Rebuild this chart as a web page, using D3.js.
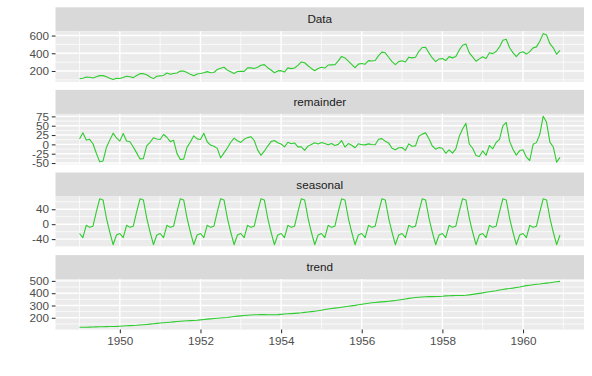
<!DOCTYPE html>
<html>
<head>
<meta charset="utf-8">
<script src="https://cdn.jsdelivr.net/npm/d3@7"></script>
<style>
  body { margin: 0; background: #fff; }
  svg { display: block; font-family: "Liberation Sans", Arial, sans-serif; }
</style>
</head>
<body>
<div id="wrapper"></div>
<script>
// Serie mensal, inicio em jan/1949
const startYear = 1949;

const passengers = [
  112, 118, 132, 129, 121, 135, 148, 148, 136, 119, 104, 118,
  115, 126, 141, 135, 125, 149, 170, 170, 158, 133, 114, 140,
  145, 150, 178, 163, 172, 178, 199, 199, 184, 162, 146, 166,
  171, 180, 193, 181, 183, 218, 230, 242, 209, 191, 172, 194,
  196, 196, 236, 235, 229, 243, 264, 272, 237, 211, 180, 201,
  204, 188, 235, 227, 234, 264, 302, 293, 259, 229, 203, 229,
  242, 233, 267, 269, 270, 315, 364, 347, 312, 274, 237, 278,
  284, 277, 317, 313, 318, 374, 413, 405, 355, 306, 271, 306,
  315, 301, 356, 348, 355, 422, 465, 467, 404, 347, 305, 336,
  340, 318, 362, 348, 363, 435, 491, 505, 404, 359, 310, 337,
  360, 342, 406, 396, 420, 472, 548, 559, 463, 407, 362, 405,
  417, 391, 419, 461, 472, 535, 622, 606, 508, 461, 390, 432
];

const remainder = [
  14.5, 31.0, 11.5, 13.5, 1.7, -23.8, -46.8, -44.3, -8.5, 11.4, 30.0, 17.2,
  8.7, 28.9, 9.1, 7.1, -6.9, -22.8, -38.9, -38.2, -4.2, 5.6, 17.5, 14.3,
  12.9, 26.5, 19.2, 7.4, 10.8, -24.1, -40.3, -39.6, -8.0, 6.2, 23.0, 14.8,
  12.9, 29.8, 7.0, -1.8, -5.1, -10.8, -36.0, -22.8, -9.7, 5.7, 16.6, 9.6,
  5.2, 13.5, 18.1, 20.6, 10.4, -14.7, -29.3, -18.3, -4.5, 7.4, 10.5, 4.5,
  1.0, -6.5, 5.7, 1.6, 3.9, -6.8, -6.5, -16.0, -4.7, -0.3, 4.5, 0.9,
  5.2, 2.3, -1.1, 2.3, -3.0, 0.0, 10.2, -7.3, 2.2, -2.2, -9.0, 1.5,
  -1.0, -1.4, 1.4, -0.3, -1.0, 13.9, 15.5, 8.2, 4.0, -10.5, -14.5, -9.1,
  -8.3, -16.0, 1.4, -4.9, -4.0, 21.8, 27.5, 30.8, 15.3, -4.4, -12.8, -8.6,
  -10.3, -23.9, -14.5, -23.5, -12.2, 21.0, 41.2, 56.3, 1.0, -10.3, -29.7, -32.6,
  -17.5, -29.2, -2.9, -11.8, 5.0, 13.5, 49.3, 58.9, 8.8, -13.0, -28.8, -16.6,
  -14.3, -34.4, -43.2, 0.2, 4.7, 27.0, 75.5, 59.0, 6.0, -7.0, -47.5, -35.0
];

const seasonal = [
  -25, -36, -3, -8.5, -5.5, 33, 68, 65, 16.5, -21, -55, -29,
  -25, -36, -3, -8.5, -5.5, 33, 68, 65, 16.5, -21, -55, -29,
  -25, -36, -3, -8.5, -5.5, 33, 68, 65, 16.5, -21, -55, -29,
  -25, -36, -3, -8.5, -5.5, 33, 68, 65, 16.5, -21, -55, -29,
  -25, -36, -3, -8.5, -5.5, 33, 68, 65, 16.5, -21, -55, -29,
  -25, -36, -3, -8.5, -5.5, 33, 68, 65, 16.5, -21, -55, -29,
  -25, -36, -3, -8.5, -5.5, 33, 68, 65, 16.5, -21, -55, -29,
  -25, -36, -3, -8.5, -5.5, 33, 68, 65, 16.5, -21, -55, -29,
  -25, -36, -3, -8.5, -5.5, 33, 68, 65, 16.5, -21, -55, -29,
  -25, -36, -3, -8.5, -5.5, 33, 68, 65, 16.5, -21, -55, -29,
  -25, -36, -3, -8.5, -5.5, 33, 68, 65, 16.5, -21, -55, -29,
  -25, -36, -3, -8.5, -5.5, 33, 68, 65, 16.5, -21, -55, -29
];

const trend = [
  122.5, 123.0, 123.5, 124.0, 124.8, 125.8, 126.8, 127.3, 128.0, 128.6, 129.0, 129.8,
  131.3, 133.1, 134.9, 136.4, 137.4, 138.8, 140.9, 143.2, 145.7, 148.4, 151.5, 154.7,
  157.1, 159.5, 161.8, 164.1, 166.7, 169.1, 171.3, 173.6, 175.5, 176.8, 178.0, 180.2,
  183.1, 186.2, 189.0, 191.3, 193.6, 195.8, 198.0, 199.8, 202.2, 206.3, 210.4, 213.4,
  215.8, 218.5, 220.9, 222.9, 224.1, 224.7, 225.3, 225.3, 225.0, 224.6, 224.5, 225.5,
  228.0, 230.5, 232.3, 233.9, 235.6, 237.8, 240.5, 244.0, 247.2, 250.3, 253.5, 257.1,
  261.8, 266.7, 271.1, 275.2, 278.5, 282.0, 285.8, 289.3, 293.3, 297.2, 301.0, 305.5,
  310.0, 314.4, 318.6, 321.8, 324.5, 327.1, 329.5, 331.8, 334.5, 337.5, 340.5, 344.1,
  348.3, 353.0, 357.6, 361.4, 364.5, 367.2, 369.5, 371.2, 372.2, 372.4, 372.8, 373.6,
  375.3, 377.9, 379.5, 380.0, 380.7, 381.0, 381.8, 383.7, 386.5, 390.3, 394.7, 398.6,
  402.5, 407.2, 411.9, 416.3, 420.5, 425.5, 430.7, 435.1, 437.7, 441.0, 445.8, 450.6,
  456.3, 461.4, 465.2, 469.3, 472.8, 475.0, 478.5, 482.0, 485.5, 489.0, 492.5, 496.0
];

const panelNames = ["Data", "remainder", "seasonal", "trend"];
const panelValues = [passengers, remainder, seasonal, trend];
const yTickValues = [
  [200, 400, 600],
  [-50, -25, 0, 25, 50, 75],
  [-40, 0, 40],
  [200, 300, 400, 500]
];
const xTickValues = [1950, 1952, 1954, 1956, 1958, 1960];

// expansao de 5% como no ggplot
const expand = ([lo, hi]) => [lo - 0.05 * (hi - lo), hi + 0.05 * (hi - lo)];

// quebras menores: pontos medios entre as maiores, incluindo os extremos
const minorBreaks = (major, domain) => {
  const step = major[1] - major[0];
  const all = [major[0] - step, ...major, major[major.length - 1] + step];
  const out = [];
  for (let i = 0; i < all.length - 1; i++) out.push((all[i] + all[i + 1]) / 2);
  return out.filter(v => v >= domain[0] && v <= domain[1]);
};

function draw() {
  const dims = {
    width: 592,
    height: 376,
    left: 55.5,
    right: 584,
    top: 7.3,
    stripH: 24,
    panelH: 50.5,
    step: 82.6
  };

  const svg = d3.select("#wrapper")
    .append("svg")
    .attr("width", dims.width)
    .attr("height", dims.height);

  svg.append("rect")
    .attr("width", dims.width)
    .attr("height", dims.height)
    .attr("fill", "#ffffff");

  const times = passengers.map((d, i) => startYear + i / 12);
  const xDomain = expand(d3.extent(times));
  const x = d3.scaleLinear().domain(xDomain).range([dims.left, dims.right]);
  const xMinor = minorBreaks(xTickValues, xDomain);

  panelNames.forEach((name, p) => {
    const values = panelValues[p];
    const stripTop = dims.top + p * dims.step;
    const panelTop = stripTop + dims.stripH;
    const panelBottom = panelTop + dims.panelH;
    const yDomain = expand(d3.extent(values));
    const y = d3.scaleLinear().domain(yDomain).range([panelBottom, panelTop]);
    const yMinor = minorBreaks(yTickValues[p], yDomain);

    const g = svg.append("g");

    // faixa do titulo
    g.append("rect")
      .attr("x", dims.left)
      .attr("y", stripTop)
      .attr("width", dims.right - dims.left)
      .attr("height", dims.stripH)
      .attr("fill", "#D9D9D9");
    g.append("text")
      .attr("x", (dims.left + dims.right) / 2)
      .attr("y", stripTop + dims.stripH / 2)
      .attr("dy", "0.35em")
      .attr("text-anchor", "middle")
      .attr("fill", "#1A1A1A")
      .style("font-size", "11.7px")
      .text(name);

    // fundo do painel
    g.append("rect")
      .attr("x", dims.left)
      .attr("y", panelTop)
      .attr("width", dims.right - dims.left)
      .attr("height", dims.panelH)
      .attr("fill", "#EBEBEB");

    // grades menores
    g.append("g").selectAll("line")
      .data(yMinor)
      .join("line")
      .attr("x1", dims.left).attr("x2", dims.right)
      .attr("y1", d => y(d)).attr("y2", d => y(d))
      .attr("stroke", "#fff").attr("stroke-width", 0.7);
    g.append("g").selectAll("line")
      .data(xMinor)
      .join("line")
      .attr("x1", d => x(d)).attr("x2", d => x(d))
      .attr("y1", panelTop).attr("y2", panelBottom)
      .attr("stroke", "#fff").attr("stroke-width", 0.7);

    // grades maiores
    g.append("g").selectAll("line")
      .data(yTickValues[p])
      .join("line")
      .attr("x1", dims.left).attr("x2", dims.right)
      .attr("y1", d => y(d)).attr("y2", d => y(d))
      .attr("stroke", "#fff").attr("stroke-width", 1.4);
    g.append("g").selectAll("line")
      .data(xTickValues)
      .join("line")
      .attr("x1", d => x(d)).attr("x2", d => x(d))
      .attr("y1", panelTop).attr("y2", panelBottom)
      .attr("stroke", "#fff").attr("stroke-width", 1.4);

    // serie
    const line = d3.line()
      .x((d, i) => x(times[i]))
      .y(d => y(d));
    g.append("path")
      .attr("d", line(values))
      .attr("fill", "none")
      .attr("stroke", "#2ECC2E")
      .attr("stroke-width", 1.1)
      .attr("stroke-linejoin", "round");

    // eixo y
    const yAxis = g.append("g")
      .attr("transform", "translate(" + dims.left + ",0)")
      .call(d3.axisLeft(y).tickValues(yTickValues[p]).tickSize(3.7).tickPadding(2.9).tickFormat(d3.format("d")));
    yAxis.select(".domain").remove();
    yAxis.selectAll(".tick line").attr("stroke", "#333333").attr("stroke-width", 1.07);
    yAxis.selectAll(".tick text")
      .attr("fill", "#4D4D4D")
      .style("font-size", "11.7px")
      .style("font-family", "\"Liberation Sans\", Arial, sans-serif")
      .text(d => String(d));

    // eixo x so no ultimo painel
    if (p === panelNames.length - 1) {
      const xAxis = g.append("g")
        .attr("transform", "translate(0," + panelBottom + ")")
        .call(d3.axisBottom(x).tickValues(xTickValues).tickSize(3.7).tickPadding(2.9).tickFormat(d3.format("d")));
      xAxis.select(".domain").remove();
      xAxis.selectAll(".tick line").attr("stroke", "#333333").attr("stroke-width", 1.07);
      xAxis.selectAll(".tick text")
        .attr("fill", "#4D4D4D")
        .style("font-size", "11.7px")
        .style("font-family", "\"Liberation Sans\", Arial, sans-serif");
    }
  });
}
draw();
</script>
</body>
</html>
